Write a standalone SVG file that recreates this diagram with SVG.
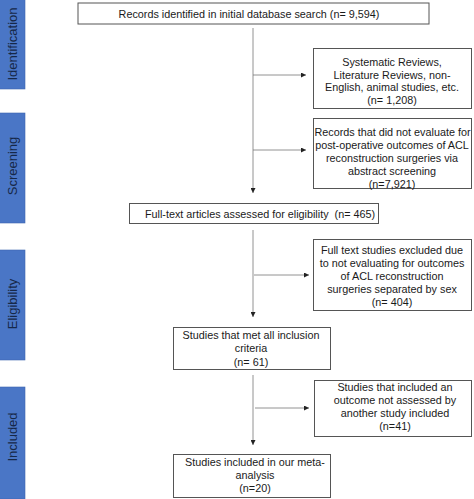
<svg xmlns="http://www.w3.org/2000/svg" width="474" height="499" viewBox="0 0 474 499">
<defs>
<style>
.bar{fill:#4A76C6;stroke:#3E66AE;stroke-width:0.6}
.bt{font-family:"Liberation Sans",Arial,sans-serif;font-size:13px;fill:#162848;text-anchor:middle}
.box{fill:#fff;stroke:#555;stroke-width:1}
.t{font-family:"Liberation Sans",Arial,sans-serif;font-size:10.8px;fill:#1a1a1a;text-anchor:middle}
.ln{stroke:#777;stroke-width:0.8;fill:none}
</style>
<marker id="ah" viewBox="0 0 6 6" refX="6" refY="3" markerWidth="5" markerHeight="5" orient="auto" markerUnits="userSpaceOnUse">
<path d="M0,0 L6,3 L0,6 z" fill="#222"/>
</marker>
</defs>
<rect width="474" height="499" fill="#fff"/>
<g id="stages">
<g id="stage-identification"><rect class="bar" x="-1" y="-1" width="26" height="90"/><text class="bt" transform="translate(17,44) rotate(-90)">Identification</text></g>
<g id="stage-screening"><rect class="bar" x="-1" y="113" width="26" height="110"/><text class="bt" transform="translate(17,166) rotate(-90)">Screening</text></g>
<g id="stage-eligibility"><rect class="bar" x="-1" y="250" width="26" height="110"/><text class="bt" transform="translate(17,304) rotate(-90)">Eligibility</text></g>
<g id="stage-included"><rect class="bar" x="-1" y="387" width="26" height="112"/><text class="bt" transform="translate(17,437) rotate(-90)">Included</text></g>
</g>
<g id="connectors">
<line class="ln" x1="253" y1="28" x2="253" y2="193" marker-end="url(#ah)"/>
<line class="ln" x1="253" y1="75" x2="306" y2="75" marker-end="url(#ah)"/>
<line class="ln" x1="253" y1="150" x2="306" y2="150" marker-end="url(#ah)"/>
<line class="ln" x1="253" y1="230" x2="253" y2="317" marker-end="url(#ah)"/>
<line class="ln" x1="254" y1="275" x2="309" y2="275" marker-end="url(#ah)"/>
<line class="ln" x1="253" y1="375" x2="253" y2="445" marker-end="url(#ah)"/>
<line class="ln" x1="255" y1="408" x2="309" y2="408" marker-end="url(#ah)"/>
</g>
<g id="n1"><rect class="box" x="78" y="3" width="351" height="21"/><text class="t" x="249" y="18">Records identified in initial database search (n= 9,594)</text></g>
<g id="n2"><rect class="box" x="313.5" y="48.5" width="158" height="60"/>
<text class="t" x="392" y="66">Systematic Reviews,</text>
<text class="t" x="392" y="78.5">Literature Reviews, non-</text>
<text class="t" x="392" y="91">English, animal studies, etc.</text>
<text class="t" x="392" y="104">(n= 1,208)</text></g>
<g id="n3"><rect class="box" x="313.5" y="118.5" width="158" height="70"/>
<text class="t" x="392.5" y="135.5">Records that did not evaluate for</text>
<text class="t" x="392" y="149">post-operative outcomes of ACL</text>
<text class="t" x="392" y="161.5">reconstruction surgeries via</text>
<text class="t" x="392" y="174.5">abstract screening</text>
<text class="t" x="392" y="187.5">(n=7,921)</text></g>
<g id="n4"><rect class="box" x="129.5" y="203.5" width="249" height="20"/><text class="t" x="260" y="217.5" xml:space="preserve">Full-text articles assessed for eligibility  (n= 465)</text></g>
<g id="n5"><rect class="box" x="313.5" y="239.5" width="158" height="71"/>
<text class="t" x="392" y="254">Full text studies excluded due</text>
<text class="t" x="392" y="267">to not evaluating for outcomes</text>
<text class="t" x="392" y="280">of ACL reconstruction</text>
<text class="t" x="392" y="293">surgeries separated by sex</text>
<text class="t" x="392" y="306">(n= 404)</text></g>
<g id="n6"><rect class="box" x="173.5" y="327.5" width="157" height="42"/>
<text class="t" x="251" y="339">Studies that met all inclusion</text>
<text class="t" x="251" y="352">criteria</text>
<text class="t" x="251" y="365.5">(n= 61)</text></g>
<g id="n7"><rect class="box" x="314.5" y="380.5" width="157" height="56"/>
<text class="t" x="395" y="391">Studies that included an</text>
<text class="t" x="395" y="404">outcome not assessed by</text>
<text class="t" x="395" y="417">another study included</text>
<text class="t" x="395" y="430">(n=41)</text></g>
<g id="n8"><rect class="box" x="173.5" y="454.5" width="157" height="43"/>
<text class="t" x="255" y="466">Studies included in our meta-</text>
<text class="t" x="255" y="479">analysis</text>
<text class="t" x="255" y="492">(n=20)</text></g>
</svg>
